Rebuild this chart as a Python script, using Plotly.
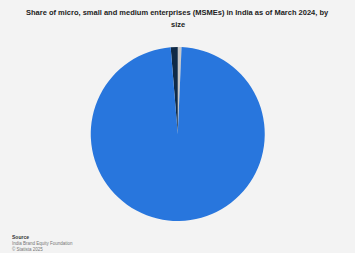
import plotly.graph_objects as go

labels = ["Medium", "Small", "Micro"]
values = [0.7, 1.3, 98.0]
colors = ["#c8c8c8", "#0f2a47", "#2876dd"]

title_line1 = "Share of micro, small and medium enterprises (MSMEs) in India as of March 2024, by"
title_line2 = "size"

W, H = 355, 253
fig = go.Figure(go.Pie(
    labels=labels, values=values, sort=False, direction="counterclockwise",
    rotation=0, marker=dict(colors=colors, line=dict(width=0)),
    textinfo="none", hoverinfo="label+percent", showlegend=False,
    domain=dict(x=[90.5 / W, 265 / W], y=[(H - 221) / H, (H - 47) / H]),
))

def title_ann(text, yc):
    return dict(text="<b>" + text + "</b>", x=0.5, y=1 - yc / H, xref="paper", yref="paper",
                xanchor="center", yanchor="middle", showarrow=False,
                font=dict(size=7.5, color="#222222"), align="center")

fig.update_layout(
    width=W, height=H, margin=dict(l=0, r=0, t=0, b=0),
    paper_bgcolor="#f3f3f3", plot_bgcolor="#f3f3f3",
    font=dict(family="Liberation Sans, Arial, sans-serif"),
    annotations=[
        title_ann(title_line1, 12.5),
        title_ann(title_line2, 25),
        dict(text="<b>Source</b>", x=10 / W, y=(H - 232) / H, xref="paper", yref="paper",
             xanchor="left", yanchor="top", showarrow=False, font=dict(size=5, color="#333333"), align="left"),
        dict(text="India Brand Equity Foundation<br>© Statista 2025", x=10 / W, y=(H - 239) / H,
             xref="paper", yref="paper", xanchor="left", yanchor="top", showarrow=False,
             font=dict(size=4.5, color="#777777"), align="left"),
    ],
)

fig.write_html("out.html")
